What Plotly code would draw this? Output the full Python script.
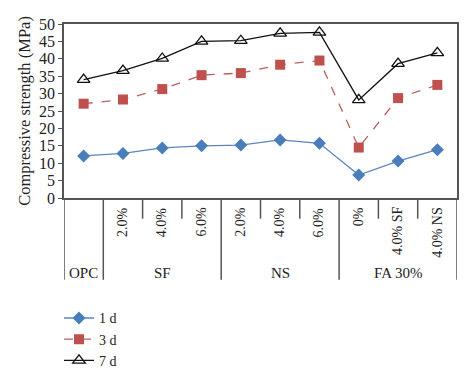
import plotly.graph_objects as go

categories = ["OPC", "SF 2.0%", "SF 4.0%", "SF 6.0%", "NS 2.0%", "NS 4.0%", "NS 6.0%",
              "FA 0%", "FA 4.0% SF", "FA 4.0% NS"]
sub_labels = ["", "2.0%", "4.0%", "6.0%", "2.0%", "4.0%", "6.0%", "0%", "4.0% SF", "4.0% NS"]
group_labels = ["OPC", "SF", "NS", "FA 30%"]
group_spans = [(0, 0), (1, 3), (4, 6), (7, 9)]

day1 = [12.1, 12.8, 14.4, 15.0, 15.2, 16.7, 15.7, 6.6, 10.6, 13.9]
day3 = [27.1, 28.3, 31.3, 35.3, 35.9, 38.3, 39.5, 14.5, 28.7, 32.5]
day7 = [34.0, 36.6, 40.1, 45.0, 45.2, 47.3, 47.6, 28.2, 38.6, 41.7]

FONT = "Liberation Serif, Times New Roman, serif"

fig = go.Figure()
fig.add_trace(go.Scatter(x=categories, y=day1, name="1 d", mode="lines+markers",
                         line=dict(color="#5b86c0", width=1.3),
                         marker=dict(symbol="diamond", size=10, color="#4a7ebb")))
fig.add_trace(go.Scatter(x=categories, y=day3, name="3 d", mode="lines+markers",
                         line=dict(color="#b8625f", width=1.3, dash="dash"),
                         marker=dict(symbol="square", size=10, color="#c0504d")))
fig.add_trace(go.Scatter(x=categories, y=day7, name="7 d", mode="lines+markers",
                         line=dict(color="#111111", width=1.3),
                         marker=dict(symbol="triangle-up-open", size=11, color="#111111",
                                     line=dict(width=1.3))))

shapes = []
line_style = dict(color="#555555", width=1.5)
bounds = [-0.5] + [e + 0.5 for (_, e) in group_spans]
for b in bounds:
    shapes.append(dict(type="line", xref="x", yref="paper", x0=b, x1=b, y0=0, y1=-0.47,
                       line=line_style))
for (s, e) in group_spans:
    for k in range(s, e):
        shapes.append(dict(type="line", xref="x", yref="paper", x0=k + 0.5, x1=k + 0.5,
                           y0=0, y1=-0.119, line=line_style))

annotations = []
for i, lab in enumerate(sub_labels):
    if lab:
        annotations.append(dict(x=i, y=-0.04, xref="x", yref="paper", text=lab,
                                showarrow=False, textangle=-90, xanchor="center",
                                yanchor="top", font=dict(family=FONT, size=14, color="#222")))
for lab, (s, e) in zip(group_labels, group_spans):
    annotations.append(dict(x=(s + e) / 2, y=-0.432, xref="x", yref="paper", text=lab,
                            showarrow=False, xanchor="center", yanchor="middle",
                            font=dict(family=FONT, size=15, color="#222")))

fig.update_layout(
    width=474, height=379,
    margin=dict(l=59, r=17, t=24, b=181, autoexpand=False),
    paper_bgcolor="white", plot_bgcolor="white",
    font=dict(family=FONT, size=15, color="#222"),
    showlegend=True,
    legend=dict(x=0, y=-0.6, xanchor="left", yanchor="top",
                font=dict(family=FONT, size=14, color="#222"),
                bgcolor="rgba(0,0,0,0)", itemwidth=30, tracegroupgap=0),
    shapes=shapes, annotations=annotations,
)
fig.update_xaxes(type="category", range=[-0.5, 9.5], domain=[5 / 398, 1],
                 showticklabels=False, ticks="",
                 showgrid=False, showline=True, linecolor="#555555", linewidth=1.5,
                 mirror=True, zeroline=False, automargin=False)
fig.update_yaxes(range=[0, 50], dtick=5, showgrid=False, showline=True, linecolor="#555555",
                 linewidth=1.5, mirror=True, ticks="outside", ticklen=4, tickcolor="#555555",
                 zeroline=False, automargin=False,
                 tickfont=dict(family=FONT, size=16, color="#222"),
                 title=dict(text="Compressive strength (MPa)", standoff=4,
                            font=dict(family=FONT, size=16.5, color="#222")))

fig.write_html("out.html", config={"displayModeBar": False},
               post_script="document.body.style.margin='0';")
